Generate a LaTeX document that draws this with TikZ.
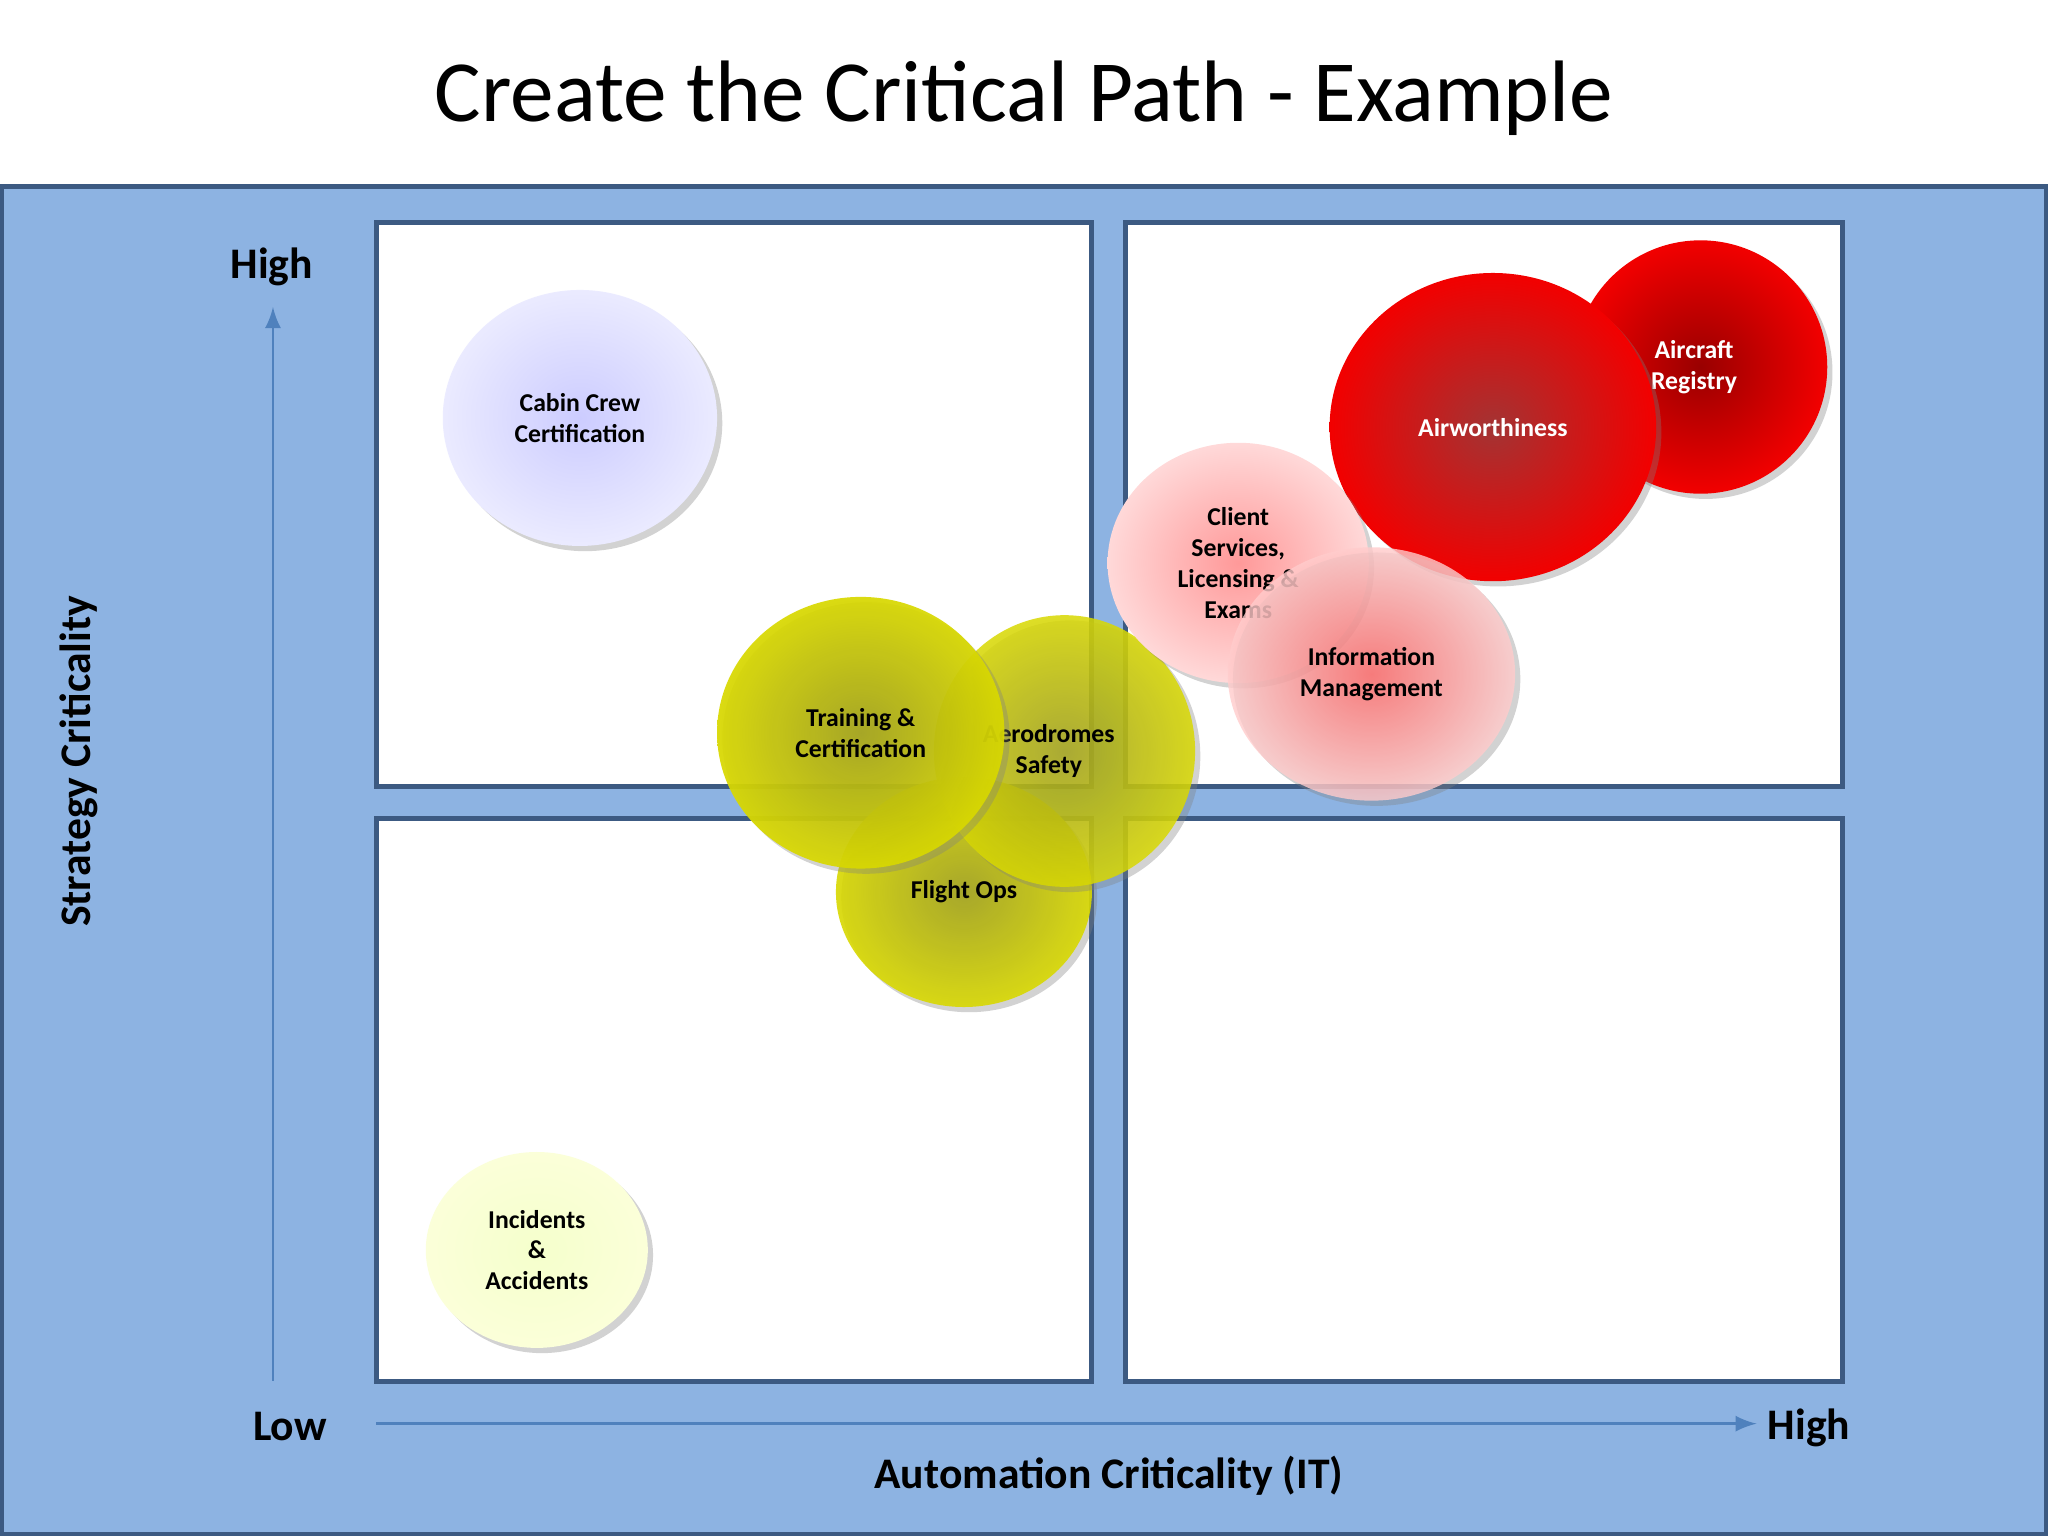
\documentclass[tikz,border=0pt]{standalone}
\usepackage{fontspec}
\setmainfont{Carlito}
\usetikzlibrary{shadows}
\definecolor{bgblue}{HTML}{8DB3E2}
\definecolor{edgeblue}{HTML}{3C5A82}
\definecolor{arrblue}{HTML}{4F81BD}
\begin{document}
\begin{tikzpicture}[x=0.01cm,y=-0.01cm,
  quad/.style={draw=edgeblue,line width=1.1pt,fill=white},
  ax/.style={draw=arrblue,line width=0.6pt,-latex},
  lbl/.style={font=\fontsize{5.6}{6.7}\selectfont\bfseries,align=center},
  axl/.style={font=\fontsize{9.5}{11}\selectfont\bfseries},
  bub/.style={drop shadow={shadow xshift=0.04cm,shadow yshift=-0.04cm,opacity=0.35}}]
\useasboundingbox (0,0) rectangle (1568,1176);
\node (title) at (784,75) {\fontsize{19}{22}\selectfont Create the Critical Path - Example};
\fill[bgblue] (0,142) rectangle (1568,1176);
\draw[edgeblue,line width=1pt] (1,143) rectangle (1567,1175);
\draw[quad] (288,170) rectangle (836,602);
\draw[quad] (862,170) rectangle (1411,602);
\draw[quad] (288,627) rectangle (836,1058);
\draw[quad] (862,627) rectangle (1411,1058);
\coordinate (vs) at (209,1057); \coordinate (ve) at (209,235);
\coordinate (hs) at (288,1090); \coordinate (he) at (1345,1090);
\draw[ax] (vs) -- (ve);
\draw[ax] (hs) -- (he);
\node[axl] (hi1) at (208,204) {High};
\node[axl] (lo) at (222,1092) {Low};
\node[axl] (hi2) at (1385,1093) {High};
\node[axl,rotate=90] (sc) at (60,583) {Strategy Criticality};
\node[axl] (ac) at (849,1130) {Automation Criticality (IT)};
% bubbles
\shade[bub,inner color=blue!20,outer color=blue!8!white] (444,320) ellipse [x radius=105,y radius=98];
\node[lbl] (cab) at (444,320) {Cabin Crew\\Certification};
\shade[bub,inner color=green!20!yellow!20,outer color=green!10!yellow!15!white] (411,957) ellipse [x radius=85,y radius=75];
\node[lbl] (inc) at (411,957) {Incidents\\\&\\Accidents};
\shade[bub,inner color=yellow!60!black!90,outer color=yellow!85!black,opacity=0.9] (738,683) ellipse [x radius=98,y radius=88];
\node[lbl] (fo) at (738,683) {Flight Ops};
\shade[bub,inner color=yellow!60!black!90,outer color=yellow!85!black,opacity=0.85] (815,575) ellipse [x radius=100,y radius=104];
\node[lbl] (aer) at (803,575) {Aerodromes\\Safety};
\shade[bub,inner color=yellow!60!black!90,outer color=yellow!85!black,opacity=0.93] (659,561) ellipse [x radius=110,y radius=104];
\node[lbl] (tr) at (659,561) {Training \&\\Certification};
\shade[bub,inner color=red!60!black,outer color=red!95!black] (1302,281) ellipse [x radius=97,y radius=97];
\node[lbl,white] (reg) at (1297,281) {Aircraft\\Registry};
\shade[bub,inner color=red!55!black!80,outer color=red!95!black] (1143,327) ellipse [x radius=125,y radius=118];
\node[lbl,white] (air) at (1143,327) {Airworthiness};
\shade[bub,inner color=red!40,outer color=red!15!white] (948,431) ellipse [x radius=100,y radius=92];
\node[lbl] (cli) at (948,431) {Client\\Services,\\Licensing \&\\Exams};
\shade[bub,inner color=red!60,outer color=red!20!white,opacity=0.8] (1050,516) ellipse [x radius=110,y radius=97];
\node[lbl] (im) at (1050,516) {Information\\Management};
\end{tikzpicture}
\end{document}
